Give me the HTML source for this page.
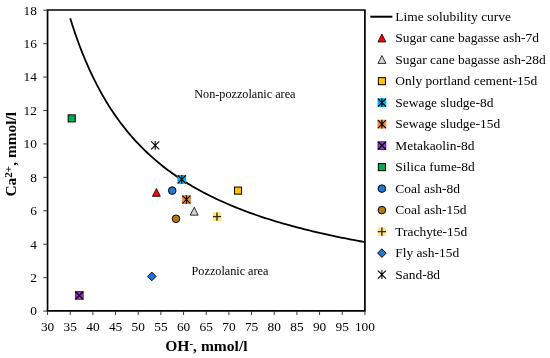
<!DOCTYPE html>
<html><head><meta charset="utf-8"><title>Lime solubility chart</title>
<style>html,body{margin:0;padding:0;background:#fff}svg{display:block}svg text{font-family:"Liberation Serif","Times New Roman",serif}</style></head>
<body>
<svg width="550" height="358" viewBox="0 0 550 358" >
<rect width="550" height="358" fill="#fff"/>
<path d="M47.55,10.0H364.9V310.9H47.55Z" fill="none" stroke="#000" stroke-width="1.7"/>
<path d="M43.25,311.10H47.55M43.25,277.67H47.55M43.25,244.23H47.55M43.25,210.80H47.55M43.25,177.37H47.55M43.25,143.93H47.55M43.25,110.50H47.55M43.25,77.07H47.55M43.25,43.63H47.55M43.25,10.20H47.55M47.55,310.90V315.00M70.22,310.90V315.00M92.89,310.90V315.00M115.55,310.90V315.00M138.22,310.90V315.00M160.89,310.90V315.00M183.56,310.90V315.00M206.22,310.90V315.00M228.89,310.90V315.00M251.56,310.90V315.00M274.23,310.90V315.00M296.90,310.90V315.00M319.56,310.90V315.00M342.23,310.90V315.00M364.90,310.90V315.00" stroke="#222" stroke-width="0.9" fill="none"/>
<g font-size="13.35" fill="#000">
<text x="36.85" y="315.40" text-anchor="end">0</text>
<text x="36.85" y="281.97" text-anchor="end">2</text>
<text x="36.85" y="248.53" text-anchor="end">4</text>
<text x="36.85" y="215.10" text-anchor="end">6</text>
<text x="36.85" y="181.67" text-anchor="end">8</text>
<text x="36.85" y="148.23" text-anchor="end">10</text>
<text x="36.85" y="114.80" text-anchor="end">12</text>
<text x="36.85" y="81.37" text-anchor="end">14</text>
<text x="36.85" y="47.93" text-anchor="end">16</text>
<text x="36.85" y="14.50" text-anchor="end">18</text>
<text x="47.55" y="331.30" text-anchor="middle">30</text>
<text x="70.22" y="331.30" text-anchor="middle">35</text>
<text x="92.89" y="331.30" text-anchor="middle">40</text>
<text x="115.55" y="331.30" text-anchor="middle">45</text>
<text x="138.22" y="331.30" text-anchor="middle">50</text>
<text x="160.89" y="331.30" text-anchor="middle">55</text>
<text x="183.56" y="331.30" text-anchor="middle">60</text>
<text x="206.22" y="331.30" text-anchor="middle">65</text>
<text x="228.89" y="331.30" text-anchor="middle">70</text>
<text x="251.56" y="331.30" text-anchor="middle">75</text>
<text x="274.23" y="331.30" text-anchor="middle">80</text>
<text x="296.90" y="331.30" text-anchor="middle">85</text>
<text x="319.56" y="331.30" text-anchor="middle">90</text>
<text x="342.23" y="331.30" text-anchor="middle">95</text>
<text x="364.90" y="331.30" text-anchor="middle">100</text>
</g>
<text x="165.2" y="350.8" font-size="15.55" font-weight="bold">OH<tspan dy="-4.3" font-size="11.2">-</tspan><tspan dy="4.3">, mmol/l</tspan></text>
<text transform="translate(16.3,196.6) rotate(-90)" font-size="15.4" font-weight="bold">Ca<tspan dy="-4.3" font-size="11.2">2+</tspan><tspan dy="4.3">, mmol/l</tspan></text>
<text x="244.9" y="98.3" text-anchor="middle" font-size="12.2">Non-pozzolanic area</text>
<text x="230" y="274.8" text-anchor="middle" font-size="12.2">Pozzolanic area</text>
<path d="M70.22,18.36 L72.48,25.49 L74.75,32.29 L77.02,38.77 L79.28,44.95 L81.55,50.86 L83.82,56.52 L86.09,61.93 L88.35,67.12 L90.62,72.09 L92.89,76.87 L95.15,81.46 L97.42,85.87 L99.69,90.11 L101.95,94.20 L104.22,98.14 L106.49,101.94 L108.75,105.61 L111.02,109.15 L113.29,112.57 L115.55,115.87 L117.82,119.07 L120.09,122.16 L122.35,125.16 L124.62,128.06 L126.89,130.87 L129.15,133.60 L131.42,136.25 L133.69,138.82 L135.95,141.31 L138.22,143.73 L140.49,146.09 L142.75,148.38 L145.02,150.60 L147.29,152.77 L149.56,154.88 L151.82,156.93 L154.09,158.93 L156.36,160.88 L158.62,162.78 L160.89,164.63 L163.16,166.43 L165.42,168.20 L167.69,169.92 L169.96,171.59 L172.22,173.23 L174.49,174.83 L176.76,176.40 L179.02,177.93 L181.29,179.42 L183.56,180.88 L185.82,182.31 L188.09,183.71 L190.36,185.08 L192.62,186.41 L194.89,187.72 L197.16,189.01 L199.42,190.26 L201.69,191.50 L203.96,192.70 L206.22,193.88 L208.49,195.04 L210.76,196.18 L213.03,197.29 L215.29,198.38 L217.56,199.46 L219.83,200.51 L222.09,201.54 L224.36,202.55 L226.63,203.55 L228.89,204.52 L231.16,205.48 L233.43,206.42 L235.69,207.35 L237.96,208.25 L240.23,209.15 L242.49,210.02 L244.76,210.89 L247.03,211.73 L249.29,212.57 L251.56,213.39 L253.83,214.19 L256.09,214.98 L258.36,215.76 L260.63,216.53 L262.89,217.29 L265.16,218.03 L267.43,218.76 L269.69,219.48 L271.96,220.19 L274.23,220.89 L276.50,221.57 L278.76,222.25 L281.03,222.92 L283.30,223.57 L285.56,224.22 L287.83,224.86 L290.10,225.49 L292.36,226.11 L294.63,226.72 L296.90,227.32 L299.16,227.91 L301.43,228.49 L303.70,229.07 L305.96,229.64 L308.23,230.20 L310.50,230.75 L312.76,231.30 L315.03,231.83 L317.30,232.37 L319.56,232.89 L321.83,233.41 L324.10,233.92 L326.36,234.42 L328.63,234.92 L330.90,235.41 L333.17,235.89 L335.43,236.37 L337.70,236.84 L339.97,237.30 L342.23,237.76 L344.50,238.22 L346.77,238.67 L349.03,239.11 L351.30,239.55 L353.57,239.98 L355.83,240.41 L358.10,240.83 L360.37,241.25 L362.63,241.66 L364.90,242.07" fill="none" stroke="#000" stroke-width="1.8" stroke-linejoin="round"/>
<rect x="68.15" y="114.85" width="7.1" height="7.1" fill="#00b050" stroke="#000" stroke-width="1"/>
<path d="M151.20,141.40L159.20,149.40M151.20,149.40L159.20,141.40M155.20,141.00L155.20,149.80" stroke="#000" stroke-width="1.1" fill="none"/>
<rect x="177.90" y="175.50" width="7.8" height="7.8" fill="#00b0f0" stroke="#00b0f0" stroke-width="1"/><path d="M177.80,175.40L185.80,183.40M177.80,183.40L185.80,175.40M181.80,175.00L181.80,183.80" stroke="#000" stroke-width="1.1" fill="none"/>
<rect x="234.45" y="187.05" width="7.1" height="7.1" fill="#ffc000" stroke="#000" stroke-width="1"/>
<path d="M156.40,188.45L160.35,196.35L152.45,196.35Z" fill="#f40808" stroke="#000" stroke-width="0.8"/>
<circle cx="172.20" cy="190.60" r="3.8" fill="#1f78d1" stroke="#000" stroke-width="1"/>
<rect x="182.50" y="195.70" width="7.8" height="7.8" fill="#f58a3c" stroke="#f58a3c" stroke-width="1"/><path d="M182.40,195.60L190.40,203.60M182.40,203.60L190.40,195.60M186.40,195.20L186.40,204.00" stroke="#000" stroke-width="1.1" fill="none"/>
<path d="M194.20,207.25L198.15,215.15L190.25,215.15Z" fill="#d6d6d6" stroke="#000" stroke-width="0.8"/>
<circle cx="176.00" cy="218.80" r="3.8" fill="#b87a10" stroke="#000" stroke-width="1"/>
<rect x="213.20" y="212.80" width="7.6" height="7.6" fill="#ffe48c" stroke="#ffe48c" stroke-width="1"/><path d="M212.90,216.60L221.10,216.60M217.00,212.50L217.00,220.70" stroke="#2e2e14" stroke-width="1.4" fill="none"/>
<path d="M151.80,272.10L156.10,276.40L151.80,280.70L147.50,276.40Z" fill="#1f78d1" stroke="#000" stroke-width="1"/>
<rect x="75.45" y="291.55" width="7.7" height="7.7" fill="#a233d6" stroke="#5a1a86" stroke-width="1"/><path d="M75.40,291.50L83.20,299.30M75.40,299.30L83.20,291.50" stroke="#000" stroke-width="1.2" fill="none"/>
<path d="M370.3,16.7H392.4" stroke="#000" stroke-width="2"/>
<g font-size="13.44" fill="#000">
<text x="395.3" y="20.90">Lime solubility curve</text>
<text x="395.3" y="42.39">Sugar cane bagasse ash-7d</text>
<path d="M381.90,34.04L385.85,41.94L377.95,41.94Z" fill="#f40808" stroke="#000" stroke-width="0.8"/>
<text x="395.3" y="63.88">Sugar cane bagasse ash-28d</text>
<path d="M381.90,55.53L385.85,63.43L377.95,63.43Z" fill="#d6d6d6" stroke="#000" stroke-width="0.8"/>
<text x="395.3" y="85.37">Only portland cement-15d</text>
<rect x="378.35" y="77.62" width="7.1" height="7.1" fill="#ffc000" stroke="#000" stroke-width="1"/>
<text x="395.3" y="106.86">Sewage sludge-8d</text>
<rect x="378.00" y="98.76" width="7.8" height="7.8" fill="#00b0f0" stroke="#00b0f0" stroke-width="1"/><path d="M377.90,98.66L385.90,106.66M377.90,106.66L385.90,98.66M381.90,98.26L381.90,107.06" stroke="#000" stroke-width="1.1" fill="none"/>
<text x="395.3" y="128.35">Sewage sludge-15d</text>
<rect x="378.00" y="120.25" width="7.8" height="7.8" fill="#f58a3c" stroke="#f58a3c" stroke-width="1"/><path d="M377.90,120.15L385.90,128.15M377.90,128.15L385.90,120.15M381.90,119.75L381.90,128.55" stroke="#000" stroke-width="1.1" fill="none"/>
<text x="395.3" y="149.84">Metakaolin-8d</text>
<rect x="378.05" y="141.79" width="7.7" height="7.7" fill="#a233d6" stroke="#5a1a86" stroke-width="1"/><path d="M378.00,141.74L385.80,149.54M378.00,149.54L385.80,141.74" stroke="#000" stroke-width="1.2" fill="none"/>
<text x="395.3" y="171.33">Silica fume-8d</text>
<rect x="378.35" y="163.58" width="7.1" height="7.1" fill="#00b050" stroke="#000" stroke-width="1"/>
<text x="395.3" y="192.82">Coal ash-8d</text>
<circle cx="381.90" cy="188.62" r="3.8" fill="#1f78d1" stroke="#000" stroke-width="1"/>
<text x="395.3" y="214.31">Coal ash-15d</text>
<circle cx="381.90" cy="210.11" r="3.8" fill="#b87a10" stroke="#000" stroke-width="1"/>
<text x="395.3" y="235.80">Trachyte-15d</text>
<rect x="378.10" y="227.80" width="7.6" height="7.6" fill="#ffe48c" stroke="#ffe48c" stroke-width="1"/><path d="M377.80,231.60L386.00,231.60M381.90,227.50L381.90,235.70" stroke="#2e2e14" stroke-width="1.4" fill="none"/>
<text x="395.3" y="257.29">Fly ash-15d</text>
<path d="M381.90,248.79L386.20,253.09L381.90,257.39L377.60,253.09Z" fill="#1f78d1" stroke="#000" stroke-width="1"/>
<text x="395.3" y="278.78">Sand-8d</text>
<path d="M377.90,270.58L385.90,278.58M377.90,278.58L385.90,270.58M381.90,270.18L381.90,278.98" stroke="#000" stroke-width="1.1" fill="none"/>
</g>
</svg>
</body></html>
